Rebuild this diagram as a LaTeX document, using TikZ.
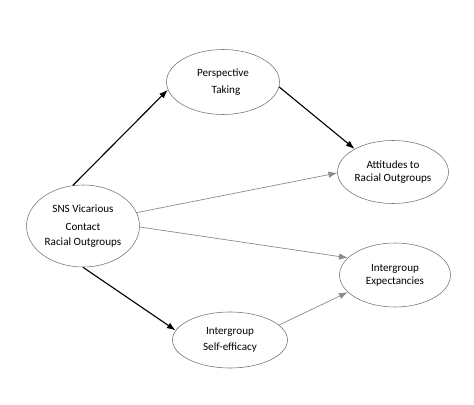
\documentclass[tikz,border=0pt]{standalone}
\usepackage{fontspec}
\setmainfont{Carlito}
\usepackage{tikz}
\usetikzlibrary{arrows.meta,shapes.geometric}

\begin{document}
\begin{tikzpicture}[
    construct/.style={draw=black!55, ellipse, inner sep=0pt, align=center, font=\fontsize{7.9}{9.2}\selectfont},
    path/.style={-{Latex[length=2.2mm,width=1.6mm]}, line width=0.8pt},
    weak/.style={-{Latex[length=2.2mm,width=1.6mm]}, draw=black!45, line width=0.5pt}
]
\useasboundingbox (0,0) rectangle (11.85,10.125);
\node[construct, minimum width=2.825cm, minimum height=2.05cm] (sns) at (2.075,4.475) {SNS Vicarious\\[3.5pt]Contact\\[1.5pt]Racial Outgroups};
\node[construct, minimum width=2.825cm, minimum height=1.625cm] (pt) at (5.575,8.075) {Perspective\\[3pt]\hspace{1.5mm}Taking};
\node[construct, minimum width=2.775cm, minimum height=1.575cm] (att) at (9.825,5.825) {Attitudes to\\Racial Outgroups};
\node[construct, minimum width=2.775cm, minimum height=1.6cm] (exp) at (9.875,3.25) {Intergroup\\Expectancies};
\node[construct, minimum width=2.875cm, minimum height=1.4cm] (se) at (5.75,1.625) {Intergroup\\[2pt]Self-efficacy};
\draw[path] (sns.104) -- (pt.188);
\draw[path] (pt.355) -- (att.149);
\draw[weak] (sns.14) -- (att.181);
\draw[weak] (sns.359) -- (exp.160);
\draw[path] (sns.270) -- (se.170);
\draw[weak] (se.17) -- (exp.200);
\end{tikzpicture}
\end{document}
